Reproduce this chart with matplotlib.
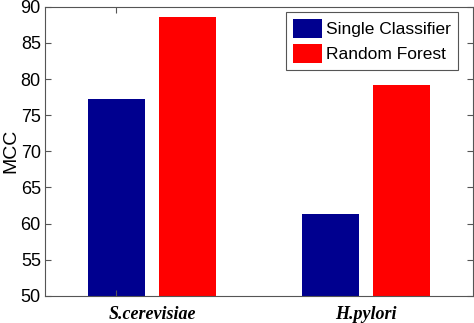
import numpy as np
import matplotlib.pyplot as plt

species = ["S.cerevisiae", "H.pylori"]
single = [77.2, 61.3]
forest = [88.6, 79.2]

plt.rcParams['font.family'] = ['Liberation Sans', 'DejaVu Sans']

fig = plt.figure(figsize=(4.74, 3.23), dpi=100)
ax = fig.add_axes([0.095, 0.084, 0.903, 0.895])

x = np.arange(1, len(species) + 1)
w = 0.267
ax.bar(x - 0.167, single, w, color="#00008F", label="Single Classifier")
ax.bar(x + 0.167, forest, w, color="#FF0000", label="Random Forest")

ax.set_xlim(0.5, 2.5)
ax.set_ylim(50, 90)
ax.set_yticks(np.arange(50, 91, 5))
ax.set_xticks([1 - 0.167])
ax.set_xticklabels([])
ax.tick_params(direction="in", top=True, right=True, labelsize=13, length=4,
               color="#555555", pad=3)
for s in ax.spines.values():
    s.set_color("#555555")
    s.set_linewidth(0.8)

for xi, name in zip(x, species):
    ax.text(xi, 47.4, name, ha="center", va="center", fontsize=13,
            fontfamily="Liberation Serif", fontweight="bold", fontstyle="italic")

ax.set_ylabel("MCC", fontsize=14, labelpad=1)

leg = ax.legend(loc="upper right", bbox_to_anchor=(0.965, 0.983), borderaxespad=0,
                fontsize=12.5, fancybox=False, framealpha=1, edgecolor="#555555",
                handlelength=1.65, handleheight=1.3, borderpad=0.4,
                labelspacing=0.35, handletextpad=0.25)
leg.get_frame().set_linewidth(0.8)

fig.savefig("out.png", dpi=100)
